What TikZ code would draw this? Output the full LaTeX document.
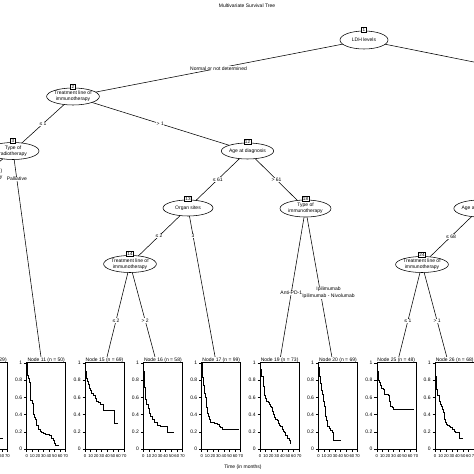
\documentclass[tikz,border=0pt]{standalone}
\usepackage{fontspec}
\setmainfont{Liberation Sans}
\usetikzlibrary{shapes.geometric}
\pgfdeclarelayer{bg}
\pgfsetlayers{bg,main}
\tikzset{
  splitnode/.style={ellipse, draw, fill=white, line width=0.55pt, inner sep=0pt, align=center, font=\fontsize{5}{6.4}\selectfont},
  numbox/.style={draw, fill=white, line width=0.5pt, inner sep=0.7pt, minimum height=5pt, minimum width=5pt, font=\fontsize{4.6}{5}\selectfont},
  elab/.style={fill=white, inner sep=0.4pt, align=center, font=\fontsize{5}{6.4}\selectfont},
  conn/.style={line width=0.55pt},
  txt/.style={inner sep=0pt, font=\fontsize{5}{6}\selectfont},
  ticklab/.style={inner sep=0pt, font=\fontsize{4.2}{5}\selectfont},
  kmline/.style={line width=0.6pt},
  plotframe/.style={line width=0.55pt},
}
\newcommand{\survpanel}[3]{%
  \fill[white] ({#1-16},356.5) rectangle ({#1+42.35},474);
  \node[txt] at ({#1+19.5},360) {#2};
  \draw[plotframe] (#1,362.5) rectangle ({#1+39},449);
  \foreach \sv in {0,0.2,0.4,0.6,0.8,1} {
    \draw[plotframe] ({#1-2.5},{449-86*\sv}) -- (#1,{449-86*\sv});
    \node[txt,anchor=east] at ({#1-4.3},{449-86*\sv}) {\sv};
  }
  \foreach \tv in {0,10,...,70} {
    \draw[plotframe] ({#1+\tv*39/70},449) -- ({#1+\tv*39/70},451.5);
    \node[ticklab] at ({#1+\tv*39/70},456.5) {\tv};
  }
  \begin{scope}[shift={(#1,449)}, xscale=0.557143, yscale=-86]
    \draw[kmline] #3;
  \end{scope}
}
\begin{document}
\begin{tikzpicture}[x=1pt,y=-1pt]
\useasboundingbox (0,0) rectangle (474,474);
\clip (0,0) rectangle (474,474);

\node[txt] (title) at (247,6) {Multivariate Survival Tree};

% inner nodes
\node[splitnode, minimum width=48pt, minimum height=18pt] (n1) at (364,40) {LDH levels};
\node[numbox] (b1) at ([yshift=1.2pt]n1.north) {1};
\node[splitnode, minimum width=50pt, minimum height=17pt] (n2) at (73,96.5) {Treatment line of\\immunotherapy};
\node[numbox] (b2) at ([yshift=1.2pt]n2.north) {2};
\node[splitnode, minimum width=52pt, minimum height=17pt] (n3) at (13,151) {Type of\\radiotherapy};
\node[numbox] (b3) at ([yshift=1.2pt]n3.north) {3};
\node[splitnode, minimum width=49pt, minimum height=16pt] (n12) at (247.5,151) {Age at diagnosis};
\node[numbox] (b12) at ([yshift=1.2pt]n12.north) {12};
\node[splitnode, minimum width=50pt, minimum height=16pt] (n13) at (188,208) {Organ sites};
\node[numbox] (b13) at ([yshift=1.2pt]n13.north) {13};
\node[splitnode, minimum width=51pt, minimum height=17pt] (n18) at (305.5,208.5) {Type of\\immunotherapy};
\node[numbox] (b18) at ([yshift=1.2pt]n18.north) {18};
\node[splitnode, minimum width=50pt, minimum height=17pt] (n23) at (480,208.5) {Age at diagnosis};
\node[splitnode, minimum width=49pt, minimum height=17pt] (n14) at (130,264) {Treatment line of\\immunotherapy};
\node[numbox] (b14) at ([yshift=1.2pt]n14.north) {14};
\node[splitnode, minimum width=50pt, minimum height=16pt] (n24) at (422,264.5) {Treatment line of\\immunotherapy};
\node[numbox] (b24) at ([yshift=1.2pt]n24.north) {24};

% off-picture and terminal targets
\coordinate (n4) at (-60,208);
\coordinate (n21) at (646,96.5);
\coordinate (t11) at (43.7,377);
\coordinate (t15) at (102.05,377);
\coordinate (t16) at (160.4,377);
\coordinate (t17) at (218.75,377);
\coordinate (t19) at (277.1,377);
\coordinate (t20) at (335.45,377);
\coordinate (t25) at (393.8,377);
\coordinate (t26) at (452.15,377);

\begin{pgfonlayer}{bg}
  \fill[white] (0,0) rectangle (474,474);
  \begin{scope}
  \clip (0,0) rectangle (474,474);
  \draw[conn] (n1.center) -- (n2.center);
  \draw[conn] (n1.center) -- (n21);
  \draw[conn] (n2.center) -- (n3.center);
  \draw[conn] (n2.center) -- (n12.center);
  \draw[conn] (n3.center) -- (n4);
  \draw[conn] (n3.center) -- (t11);
  \draw[conn] (n12.center) -- (n13.center);
  \draw[conn] (n12.center) -- (n18.center);
  \draw[conn] (n13.center) -- (n14.center);
  \draw[conn] (n13.center) -- (t17);
  \draw[conn] (n14.center) -- (t15);
  \draw[conn] (n14.center) -- (t16);
  \draw[conn] (n18.center) -- (t19);
  \draw[conn] (n18.center) -- (t20);
  \draw[conn] (n23.center) -- (n24.center);
  \draw[conn] (n24.center) -- (t25);
  \draw[conn] (n24.center) -- (t26);
  \end{scope}
\end{pgfonlayer}

% edge labels
\path (n1.center) -- node[elab] (l1) {Normal or not determined} (n2.center);
\path (n2.center) -- node[elab] (l2) {≤ 1} (n3.center);
\path (n2.center) -- node[elab] (l3) {> 1} (n12.center);
\node[elab, anchor=east, align=right] (l4) at (3,174.5) {)\\y};
\path (n3.center) -- node[elab, pos=0.124] (l5) {Palliative} (t11);
\path (n12.center) -- node[elab] (l6) {≤ 61} (n13.center);
\path (n12.center) -- node[elab] (l7) {> 61} (n18.center);
\path (n13.center) -- node[elab] (l8) {≤ 2} (n14.center);
\path (n13.center) -- node[elab, pos=0.166] (l9) {3} (t17);
\path (n14.center) -- node[elab] (l10) {≤ 2} (t15);
\path (n14.center) -- node[elab] (l11) {> 2} (t16);
\path (n18.center) -- node[elab] (l12) {Anti-PD-1} (t19);
\path (n18.center) -- node[elab, xshift=8pt] (l13) {Ipilimumab\\Ipilimumab - Nivolumab} (t20);
\path (n23.center) -- node[elab] (l14) {≤ 68} (n24.center);
\path (n24.center) -- node[elab] (l15) {≤ 1} (t25);
\path (n24.center) -- node[elab] (l16) {> 1} (t26);

% terminal panels
\survpanel{-31.65}{Node 10 (n = 29)}{(50,0.2) -| (55,0.12) -- (62,0.12)}
\survpanel{26.7}{Node 11 (n = 50)}{(0,1) -| (1.8,0.86) -| (3,0.82) -| (4.7,0.77) -| (6,0.65) -| (7,0.57) -| (10,0.53) -| (11,0.47) -| (12,0.40) -| (14,0.37) -| (15,0.35) -| (17,0.31) -| (18,0.28) -| (20,0.25) -| (21,0.23) -| (24,0.21) -| (27,0.20) -| (30,0.18) -| (33,0.17) -| (41,0.16) -| (44,0.13) -| (47,0.10) -| (49,0.07) -| (52,0.04) -- (58,0.04)}
\survpanel{85.05}{Node 15 (n = 69)}{(0,1) -| (1,0.9) -| (2,0.85) -| (3,0.82) -| (4,0.79) -| (6,0.75) -| (7.7,0.71) -| (10,0.68) -| (12,0.65) -| (15,0.62) -| (18,0.59) -| (21,0.56) -| (24,0.54) -| (28,0.52) -| (33,0.45) -| (53,0.30) -- (60,0.30)}
\survpanel{143.4}{Node 16 (n = 58)}{(0,1) -| (0.5,0.9) -| (1,0.8) -| (2,0.72) -| (3,0.65) -| (4,0.58) -| (6,0.52) -| (8,0.47) -| (10,0.42) -| (13,0.38) -| (16,0.34) -| (20,0.31) -| (25,0.28) -| (30,0.26) -| (42,0.19) -- (55,0.19)}
\survpanel{201.75}{Node 17 (n = 99)}{(0,1) -| (1,0.9) -| (1.7,0.83) -| (3,0.74) -| (4.6,0.65) -| (6,0.6) -| (7.5,0.54) -| (9,0.48) -| (10.4,0.42) -| (12,0.38) -| (13,0.35) -| (16,0.31) -| (22,0.30) -| (28,0.29) -| (32,0.26) -| (34,0.25) -| (36,0.23) -- (67,0.23)}
\survpanel{260.1}{Node 19 (n = 73)}{(0,1) -| (1,0.93) -| (3,0.85) -| (5,0.78) -| (6,0.73) -| (7,0.68) -| (8.4,0.62) -| (10,0.59) -| (12,0.56) -| (14,0.54) -| (16,0.52) -| (18,0.50) -| (20,0.48) -| (22,0.44) -| (24,0.40) -| (26,0.37) -| (28,0.35) -| (30,0.33) -| (32,0.30) -| (35,0.28) -| (37,0.26) -| (40,0.23) -| (42,0.21) -| (44,0.19) -| (46,0.16) -| (49,0.13) -| (52,0.10) -| (54,0.06)}
\survpanel{318.45}{Node 20 (n = 69)}{(0,1) -| (0.5,0.95) -| (1,0.9) -| (2,0.84) -| (3,0.8) -| (4,0.76) -| (5,0.72) -| (6,0.68) -| (7,0.64) -| (8,0.6) -| (9.5,0.56) -| (10.5,0.5) -| (11.5,0.44) -| (12.5,0.38) -| (13.5,0.33) -| (15,0.29) -| (16,0.26) -| (19,0.24) -| (22,0.22) -| (24,0.19) -| (26,0.15) -| (27,0.10) -- (41,0.10)}
\survpanel{376.8}{Node 25 (n = 48)}{(0,1) -| (1,0.9) -| (1.8,0.85) -| (3,0.8) -| (4.9,0.77) -| (6,0.74) -| (7.3,0.71) -| (12,0.69) -| (13,0.64) -| (21,0.63) -| (22,0.6) -| (23,0.56) -| (25,0.5) -| (28,0.49) -| (30,0.46) -- (67,0.46)}
\survpanel{435.15}{Node 26 (n = 68)}{(0,1) -| (0.5,0.85) -| (1.2,0.77) -| (2,0.7) -| (3,0.62) -| (7,0.60) -| (8,0.56) -| (10,0.52) -| (11,0.5) -| (13,0.46) -| (14,0.43) -| (16,0.38) -| (17,0.35) -| (19,0.31) -| (20,0.29) -| (22,0.28) -| (25,0.26) -| (27,0.25) -| (31,0.23) -| (34,0.21) -| (36,0.2) -| (41,0.19) -| (43,0.13) -- (50,0.13)}

\node[txt] (xlab) at (243,467) {Time (in months)};
\end{tikzpicture}
\end{document}
